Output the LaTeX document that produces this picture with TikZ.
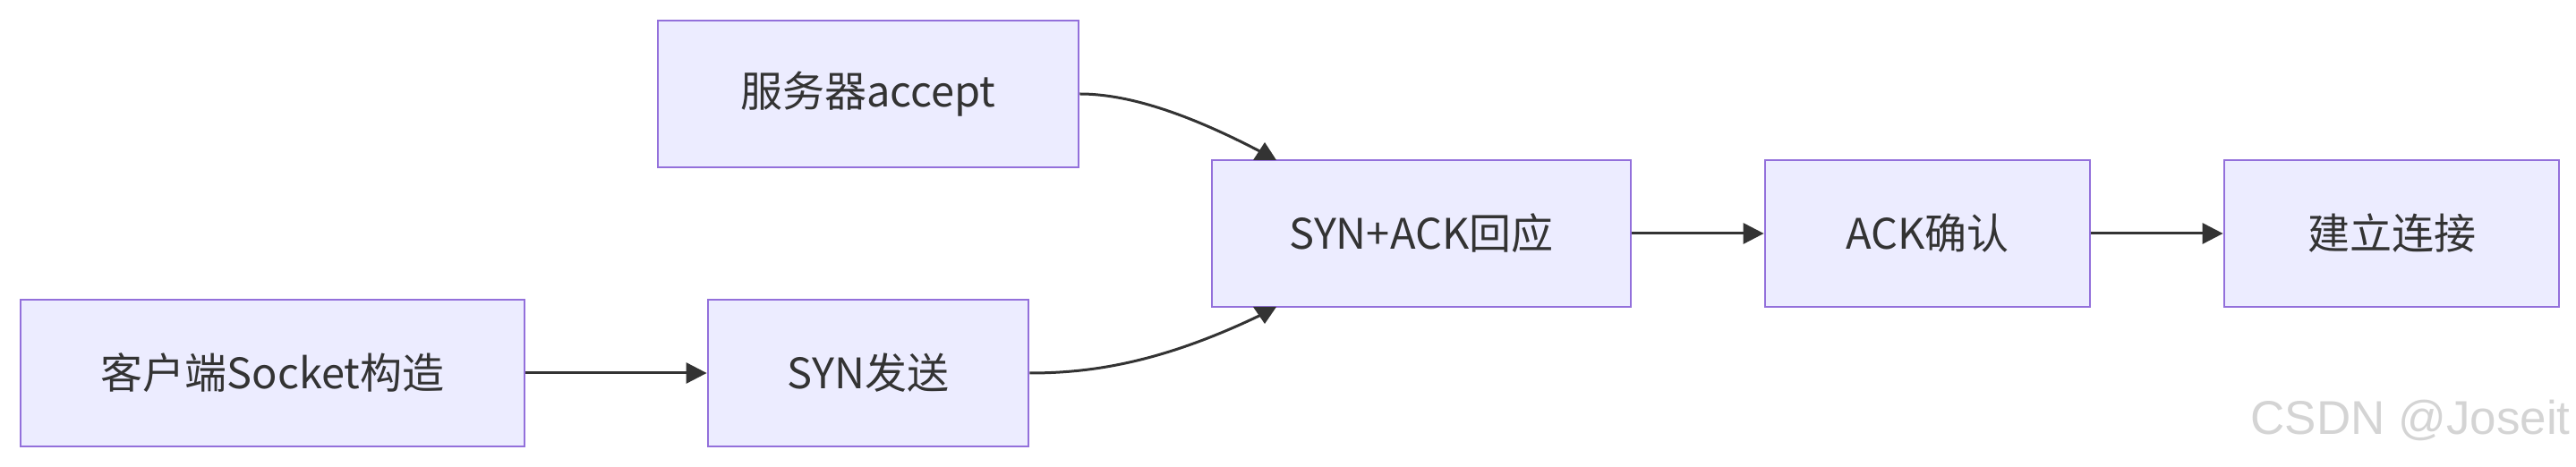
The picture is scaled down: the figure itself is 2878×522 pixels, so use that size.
\documentclass[tikz,border=0pt]{standalone}
\usepackage{fontspec}
\setmainfont{Noto Sans CJK SC}
\newfontfamily\wmfont{Liberation Sans}
\usetikzlibrary{arrows.meta}
\definecolor{bg}{HTML}{ECECFF}
\definecolor{bd}{HTML}{9370DB}
\definecolor{ec}{HTML}{333333}
\definecolor{wm}{HTML}{D4D4D4}
\tikzset{
  box/.style={draw=bd, fill=bg, line width=1.4pt, inner sep=0pt, minimum height=82pt,
    text=ec, font=\fontsize{23.5}{28}\selectfont},
  edge/.style={draw=ec, line width=1.5pt, -{Triangle[length=11.5pt,width=11.5pt]}},
  edgeline/.style={draw=ec, line width=1.5pt},
  headtri/.style={fill=ec}
}
\begin{document}
\begin{tikzpicture}[x=0.5pt,y=-0.5pt]
\useasboundingbox (0,0) rectangle (2878,522);
\node[box, minimum width=235pt] (acc) at (970,105) {服务器accept};
\node[box, minimum width=281.5pt] (cli) at (304.5,417) {客户端Socket构造};
\node[box, minimum width=179pt] (syn) at (970,417) {SYN发送};
\node[box, minimum width=234pt] (sa) at (1588,261) {SYN+ACK回应};
\node[box, minimum width=181.5pt] (ack) at (2153.5,261) {ACK确认};
\node[box, minimum width=187pt] (est) at (2672,261) {建立连接};
\coordinate (t1) at (1413,172);
\coordinate (t2) at (1413,350);
\draw[edge] (cli.east) -- (syn.west);
\draw[edge] (sa.east) -- (ack.west);
\draw[edge] (ack.east) -- (est.west);
\draw[edgeline] (acc.east) .. controls +(55,0) and (1330,128) .. (t1);
\draw[edgeline] (syn.east) .. controls +(70,0) and (1300,405) .. (t2);
\fill[headtri] (1413,159) -- (1426,179) -- (1400,179) -- cycle;
\fill[headtri] (1413,362) -- (1426,343) -- (1400,343) -- cycle;
\node[text=wm, font=\wmfont\fontsize{26.5}{30}\selectfont, inner sep=0pt, anchor=base east] (wmk) at (2872,486) {CSDN @Joseit};
\end{tikzpicture}
\end{document}
